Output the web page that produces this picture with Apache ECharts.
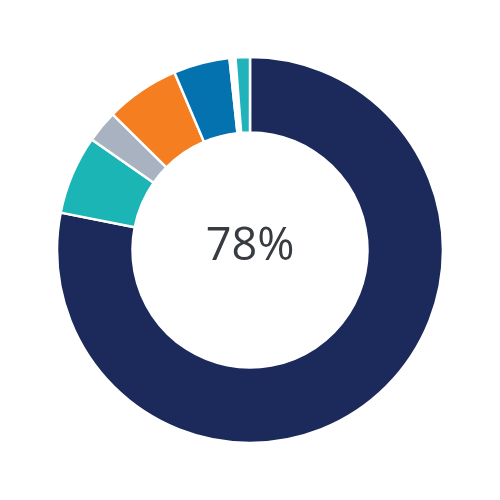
<!DOCTYPE html>
<html><head><meta charset="utf-8">
<script src="https://cdn.jsdelivr.net/npm/echarts@6/dist/echarts.min.js"></script>
<style>html,body{margin:0;padding:0;background:#fff}#c{width:500px;height:500px}</style>
</head><body><div id="c"></div>
<script>
const categories = ['A','B','C','D','E','F','G'];
const values = [78.1, 6.6, 2.7, 6.2, 4.7, 0.5, 1.2];
const colors = ['#1b2a5b','#1bb5b6','#a8b2c1','#f47e20','#0572b0','#ffffff','#21b3bb'];
const centerLabel = '78%';
const chart = echarts.init(document.getElementById('c'));
chart.setOption({
  animation:false,
  graphic:[{type:'text',left:'center',top:225,style:{text:centerLabel,fontFamily:'Open Sans',fontSize:45,fontWeight:'normal',fill:'#383c41'}}],
  series:[{
    type:'pie',
    center:['50%','50%'],
    radius:['47%','77.2%'],
    startAngle:90,
    clockwise:true,
    label:{show:false},
    labelLine:{show:false},
    emphasis:{disabled:true},
    itemStyle:{borderColor:'#ffffff',borderWidth:2.5},
    data:categories.map((n,i)=>({name:n,value:values[i],itemStyle:{color:colors[i]}}))
  }]
});
</script></body></html>
